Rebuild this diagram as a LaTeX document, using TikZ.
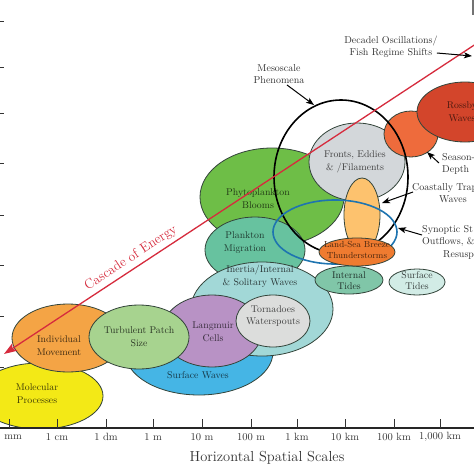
\documentclass[tikz,border=0pt]{standalone}
\usetikzlibrary{arrows.meta,calc}
\definecolor{outl}{HTML}{33443A}
\definecolor{cMol}{HTML}{F3E916}
\definecolor{cInd}{HTML}{F4A445}
\definecolor{cTurb}{HTML}{A7D38F}
\definecolor{cSurf}{HTML}{45B5E5}
\definecolor{cLang}{HTML}{B892C5}
\definecolor{cInert}{HTML}{A2D8D7}
\definecolor{cTorn}{HTML}{DCDDDC}
\definecolor{cPMig}{HTML}{67C29F}
\definecolor{cPhyto}{HTML}{6EBE47}
\definecolor{cFront}{HTML}{D3D7DA}
\definecolor{cLOr}{HTML}{FDC26E}
\definecolor{cLand}{HTML}{EF7B30}
\definecolor{cITide}{HTML}{80C6A8}
\definecolor{cSTide}{HTML}{D2ECE6}
\definecolor{cSeas}{HTML}{EE6B3C}
\definecolor{cRoss}{HTML}{D3452B}
\definecolor{cRing}{HTML}{1E74B0}
\definecolor{casc}{HTML}{D62B3D}
\definecolor{labc}{HTML}{333333}
\tikzset{
  blob/.style={draw=outl,line width=0.8pt},
  intext/.style={font=\fontsize{9.8}{12.8}\selectfont,align=center,inner sep=0pt},
  labtext/.style={font=\fontsize{10}{12.5}\selectfont,inner sep=0pt,text=labc},
  ptr/.style={-{Stealth[length=8pt,width=6pt,inset=2pt]},line width=1pt,black},
  ticklab/.style={font=\fontsize{10.5}{12}\selectfont,inner sep=0pt,text=labc},
}
\begin{document}
\begin{tikzpicture}[x=1pt,y=-1pt]
\useasboundingbox (0,0) rectangle (474,474);
\fill[white] (0,0) rectangle (474,474);

% Phytoplankton Blooms
\path[blob,fill=cPhyto] (272,197) ellipse [x radius=72pt,y radius=49pt];
\node[intext,text=cPhyto!30!black] (phyto) at (258,199) {Phytoplankton\\Blooms};
% Plankton Migration
\path[blob,fill=cPMig] (255,250) ellipse [x radius=50pt,y radius=33pt];
\node[intext,text=cPMig!30!black] (pmig) at (245,243) {Plankton\\Migration};
% Surface Waves
\path[blob,fill=cSurf] (199,352) ellipse [x radius=74pt,y radius=43pt];
\node[intext,text=cSurf!30!black] (surfw) at (198,375) {Surface Waves};
% Inertia
\path[blob,fill=cInert] (262,309) ellipse [x radius=71pt,y radius=47pt];
\node[intext,text=cInert!25!black] (inert) at (260,276) {Inertia/Internal\\\& Solitary Waves};
% Langmuir
\path[blob,fill=cLang] (212,331) ellipse [x radius=50pt,y radius=36pt];
\node[intext,text=cLang!30!black] (lang) at (213,332) {Langmuir\\Cells};
% Tornadoes
\path[blob,fill=cTorn] (273,321) ellipse [x radius=37pt,y radius=26pt];
\node[intext,text=black!75] (torn) at (273,316) {Tornadoes\\Waterspouts};
% Molecular
\begin{scope}
\clip (-5,-5) rectangle (480,428);
\path[blob,fill=cMol] (40,396) ellipse [x radius=63pt,y radius=33pt];
\end{scope}
\node[intext,text=cMol!25!black] (mol) at (37,394) {Molecular\\Processes};
% Individual Movement
\path[blob,fill=cInd] (68,338) ellipse [x radius=56pt,y radius=34pt];
\node[intext,text=cInd!25!black] (indiv) at (59,346) {Individual\\Movement};
% Turbulent Patch
\path[blob,fill=cTurb] (139,337) ellipse [x radius=50pt,y radius=32pt];
\node[intext,text=cTurb!25!black] (turb) at (139,337) {Turbulent Patch\\Size};
% Fronts
\path[blob,fill=cFront] (357,162) ellipse [x radius=48pt,y radius=39pt];
\node[intext,text=black!75] (front) at (355,162) {Fronts, Eddies\\\& /Filaments};
% Season circle
\path[blob,fill=cSeas] (411,134) ellipse [x radius=27pt,y radius=23pt];
% Rossby
\path[blob,fill=cRoss] (465,112) ellipse [x radius=48pt,y radius=30pt];
\node[intext,text=cRoss!35!black] (ross) at (462,112) {Rossby\\Waves};
% light orange
\path[blob,fill=cLOr] (362,215) ellipse [x radius=18pt,y radius=37pt];
% Internal tides
\path[blob,fill=cITide] (349,280) ellipse [x radius=34pt,y radius=14pt];
\node[intext,text=cITide!25!black,font=\fontsize{9.8}{11}\selectfont] (itide) at (349,281) {Internal\\Tides};
% Surface tides
\path[blob,fill=cSTide] (417,282) ellipse [x radius=28pt,y radius=13pt];
\node[intext,text=cSTide!25!black,font=\fontsize{9.8}{11}\selectfont] (stide) at (417,281) {Surface\\Tides};
% rings
\draw[black,line width=1.6pt] (341,177) ellipse [x radius=67pt,y radius=77pt];
\draw[cRing,line width=1.6pt] (335,232) ellipse [x radius=62pt,y radius=32pt];
% Land-sea
\path[blob,fill=cLand] (357,252) ellipse [x radius=38pt,y radius=14pt];
\node[intext,text=cLand!30!black,font=\fontsize{8.8}{11}\selectfont] (land) at (357,250) {Land-Sea Breeze\\Thunderstorms};

% cascade arrow
\coordinate (cascTop) at (490,34.7);
\coordinate (cascTip) at (4,354);
\draw[casc,line width=1.3pt,-{Stealth[length=13pt,width=9pt,inset=3pt]}] (cascTop) -- (cascTip);
\node[font=\fontsize{13.5}{14}\selectfont,text=casc,rotate=33.3,inner sep=0pt] (cascl) at (131,258) {Cascade of Energy};

% labels with pointers
\node[labtext,align=center] (meso) at (279,74) {Mesoscale\\Phenomena};
\coordinate (mesotip) at (314,105);
\draw[ptr] ($(meso.south)+(8,1)$) -- (mesotip);

\node[labtext,align=center] (decad) at (391,47) {Decadel Oscillations/\\Fish Regime Shifts};
\coordinate (dectip) at (472,56);
\draw[ptr] ($(decad.east)+(-1,6)$) -- (dectip);

\node[labtext,align=left,anchor=west] (season) at (442,164) {Season-\\Depth};
\coordinate (seastip) at (427,152);
\draw[ptr] ($(season.west)+(-3,-1)$) -- (seastip);

\node[labtext,align=left,anchor=west] (coast) at (412,193) {Coastally Trap\\\hspace*{27pt}Waves};
\coordinate (coasttip) at (382,203);
\draw[ptr] ($(coast.west)+(1,-1)$) -- (coasttip);

\node[labtext,align=left,anchor=west] (synop) at (422,242) {Synoptic St\\Outflows, \&\\\hspace*{21pt}Resusp};
\coordinate (syntip) at (398,228);
\draw[ptr] ($(synop.west)+(0,-7)$) -- (syntip);

% corner mark
\fill[black!55] (472,0) rectangle (474,15);

% y ticks
\foreach \yy in {21,67,113,163,215,265,316,367}
  \draw[line width=0.9pt,black!80] (0,\yy) -- (4,\yy);

% axis
\coordinate (axL) at (0,428);
\coordinate (axR) at (474,428);
\draw[line width=1.5pt,black!85] (axL) -- (axR);
\foreach \xx in {9,57,106,153,202,251,297,345,394,440}
  \draw[line width=0.9pt,black!80] (\xx,419) -- (\xx,428);
\node[ticklab] (t0) at (13,437) {mm};
\node[ticklab] (t1) at (57,437) {1 cm};
\node[ticklab] (t2) at (106,437) {1 dm};
\node[ticklab] (t3) at (153,437) {1 m};
\node[ticklab] (t4) at (202,437) {10 m};
\node[ticklab] (t5) at (251,437) {100 m};
\node[ticklab] (t6) at (297,437) {1 km};
\node[ticklab] (t7) at (345,437) {10 km};
\node[ticklab] (t8) at (394,437) {100 km};
\node[ticklab] (t9) at (440,437) {1,000 km};
\node[font=\fontsize{14.5}{16}\selectfont,text=labc,inner sep=0pt] (xlab) at (267,458) {Horizontal Spatial Scales};
\end{tikzpicture}
\end{document}
